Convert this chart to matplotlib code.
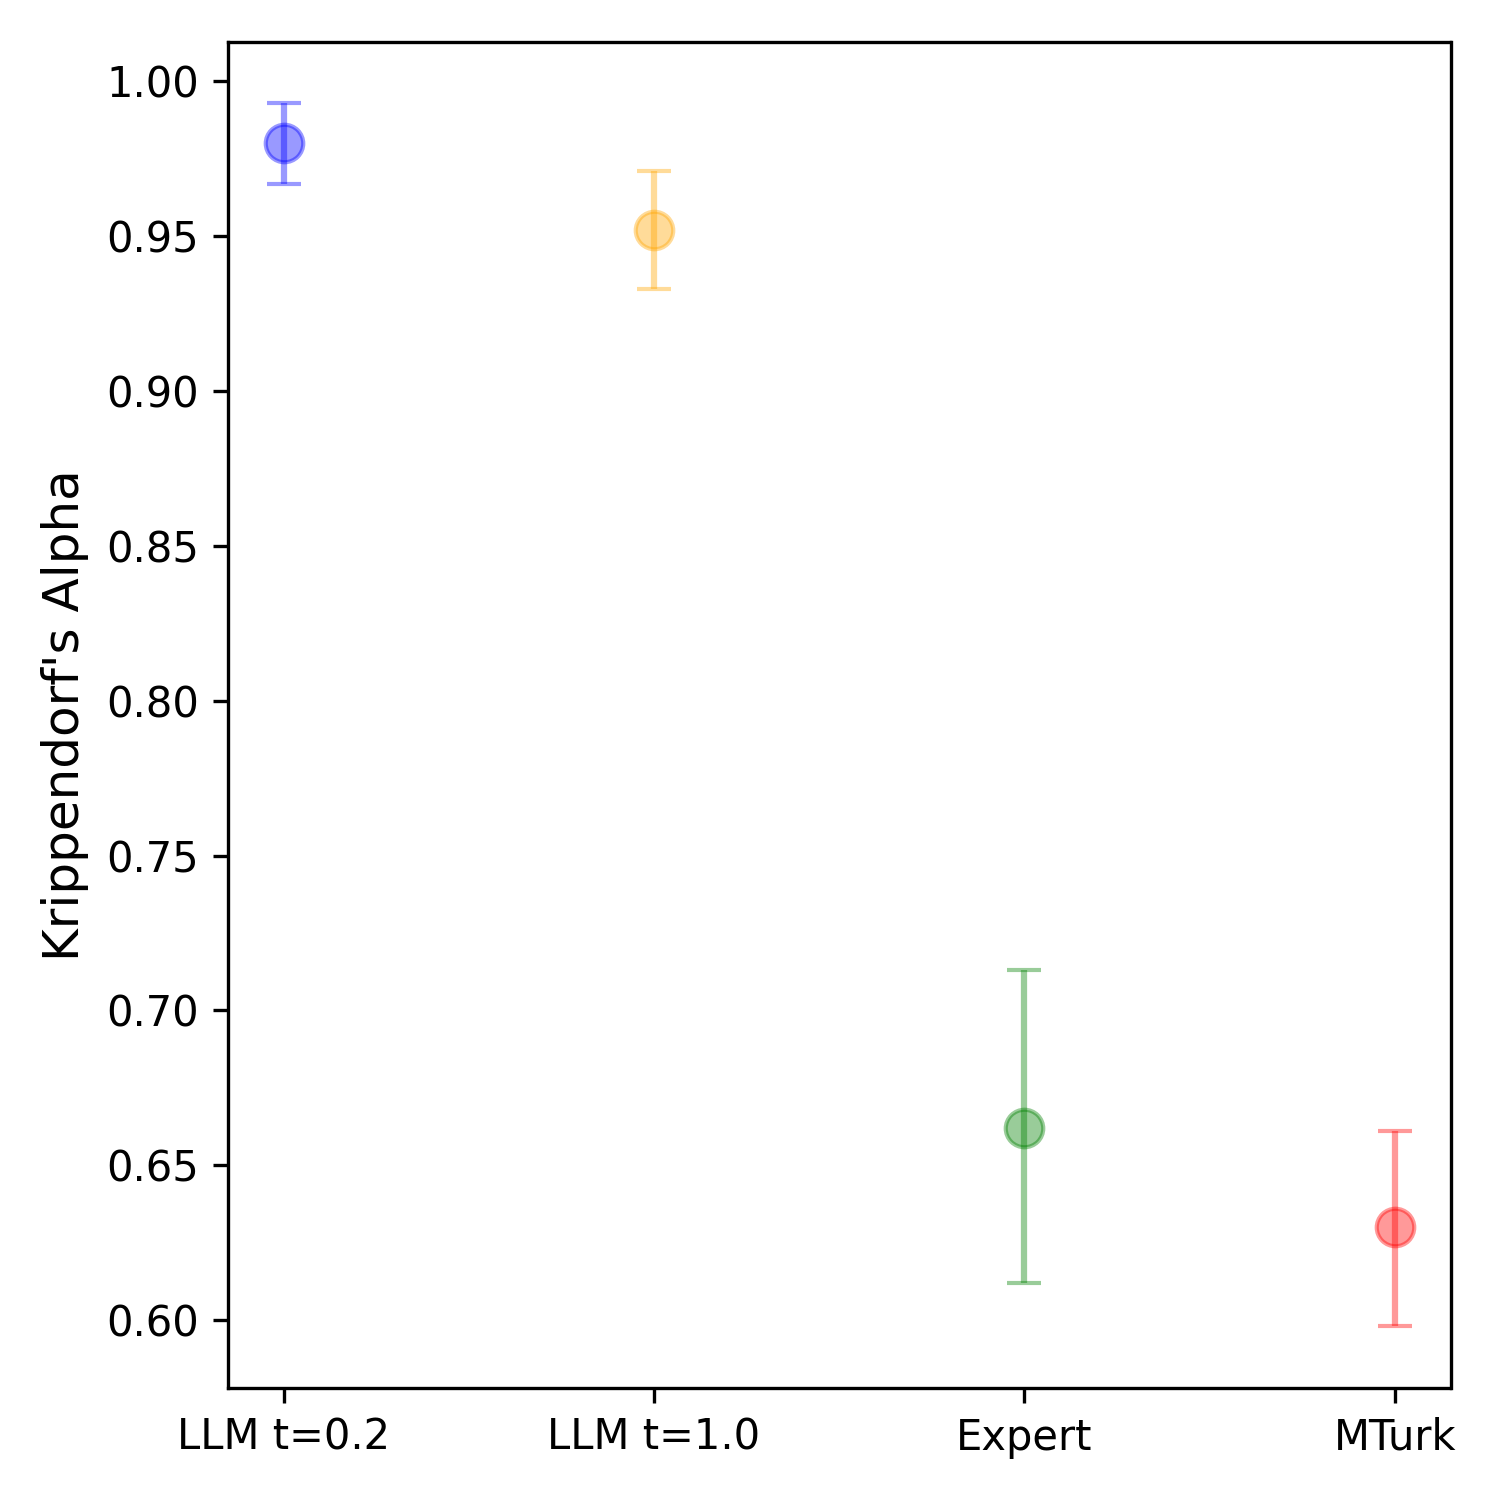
import matplotlib
matplotlib.use("Agg")
import matplotlib.pyplot as plt

labels = ["LLM t=0.2", "LLM t=1.0", "Expert", "MTurk"]
means = [0.980, 0.952, 0.662, 0.630]
lower = [0.967, 0.933, 0.612, 0.598]
upper = [0.993, 0.971, 0.713, 0.661]
colors = ["blue", "orange", "green", "red"]

fig, ax = plt.subplots(figsize=(5, 5), dpi=300)
for i in range(len(labels)):
    err = [[means[i] - lower[i]], [upper[i] - means[i]]]
    ax.errorbar(i, means[i], yerr=err, fmt="o", color=colors[i],
                capsize=4, markersize=9, elinewidth=1.5, alpha=0.4)

ax.set_xticks(range(len(labels)))
ax.set_xticklabels(labels)
ax.set_ylabel("Krippendorf's Alpha", fontsize=12)
fig.subplots_adjust(left=0.152, right=0.967, top=0.972, bottom=0.075)
plt.savefig("out.png", dpi=300)
